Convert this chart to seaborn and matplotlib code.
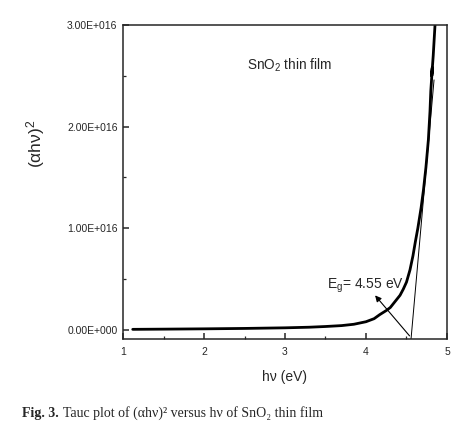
import matplotlib
matplotlib.use("Agg")
import matplotlib.pyplot as plt
from matplotlib.ticker import FixedLocator
import pandas as pd
import seaborn as sns

# Tauc plot data, (alpha h nu)^2 in units of 1e16
hv = [1.12, 1.5, 2.0, 2.5, 3.0, 3.3, 3.5, 3.7, 3.85, 4.0, 4.1, 4.17, 4.25, 4.3,
      4.36, 4.42, 4.46, 4.5, 4.543, 4.58, 4.61, 4.64, 4.68, 4.71, 4.74, 4.77,
      4.79, 4.80, 4.81, 4.818, 4.812, 4.83, 4.852, 4.87]
ahv2 = [0.005, 0.007, 0.01, 0.014, 0.02, 0.026, 0.033, 0.042, 0.055, 0.08, 0.11,
        0.15, 0.19, 0.22, 0.28, 0.34, 0.40, 0.47, 0.59, 0.73, 0.87, 1.00, 1.20,
        1.38, 1.60, 1.87, 2.15, 2.35, 2.47, 2.58, 2.50, 2.70, 3.0, 3.2]

# linear extrapolation of the absorption edge
fit_x = [4.556, 4.84]
fit_y = [-0.09, 2.46]

x_ticks = [1, 2, 3, 4, 5]
y_ticks = [0, 1, 2, 3]
y_tick_labels = ["0.00E+000", "1.00E+016", "2.00E+016", "3.00E+016"]

sns.set_style("ticks")
plt.rcParams['font.family'] = ['Liberation Sans', 'DejaVu Sans']
plt.rcParams['mathtext.default'] = 'regular'

df = pd.DataFrame({"hv": hv, "ahv2": ahv2})
fit = pd.DataFrame({"hv": fit_x, "ahv2": fit_y})

fig = plt.figure(figsize=(4.74, 4.21), dpi=100)
ax = fig.add_axes([123 / 474, 82 / 421, 324 / 474, 314 / 421])

sns.lineplot(data=df, x="hv", y="ahv2", sort=False, color="black", linewidth=2.0, ax=ax)
sns.lineplot(data=fit, x="hv", y="ahv2", sort=False, color="black", linewidth=0.7, ax=ax)

ax.set_xlim(1, 5)
ax.set_ylim(-0.09, 3.0)
ax.set_xticks(x_ticks)
ax.set_xticklabels([str(t) for t in x_ticks])
ax.set_yticks(y_ticks)
ax.set_yticklabels(y_tick_labels)
ax.xaxis.set_minor_locator(FixedLocator([1.5, 2.5, 3.5, 4.5]))
ax.yaxis.set_minor_locator(FixedLocator([0.5, 1.5, 2.5]))
ax.tick_params(which="major", direction="in", length=4, width=1.1, labelsize=7.5)
ax.tick_params(axis="x", which="major", pad=6)
ax.tick_params(axis="y", which="major", pad=4)
ax.tick_params(which="minor", direction="in", length=2.5, width=0.9)
ax.tick_params(top=False, right=False, which="both")
for s in ax.spines.values():
    s.set_linewidth(1.1)
ax.set_xlabel("")
ax.set_ylabel("")

ax.text(2.53, 2.6, "SnO$_2$ thin film", fontsize=9.8, va="center", ha="left")
ax.annotate("", xy=(4.09, 0.36), xytext=(4.56, -0.08),
            arrowprops=dict(arrowstyle="-|>", color="black", lw=0.8, mutation_scale=9))
ax.text(3.52, 0.41, "E$_g$= 4.55 eV", fontsize=10, va="baseline", ha="left")

fig.text(285 / 474, 1 - 377 / 421, "h\u03bd (eV)", fontsize=10, ha="center", va="center")
fig.text(36 / 474, 1 - 144 / 421, "(\u03b1h\u03bd)$^2$", fontsize=12.5, rotation=90,
         ha="center", va="center")

serif = ["Liberation Serif", "DejaVu Serif"]
fig.text(22 / 474, 0.01, "Fig. 3.", fontsize=10, fontweight="bold", family=serif,
         va="baseline")
fig.text(63 / 474, 0.01, "Tauc plot of (\u03b1h\u03bd)\u00b2 versus h\u03bd of SnO\u2082 thin film",
         fontsize=10, family=serif, va="baseline")

fig.savefig("out.png", dpi=100)
